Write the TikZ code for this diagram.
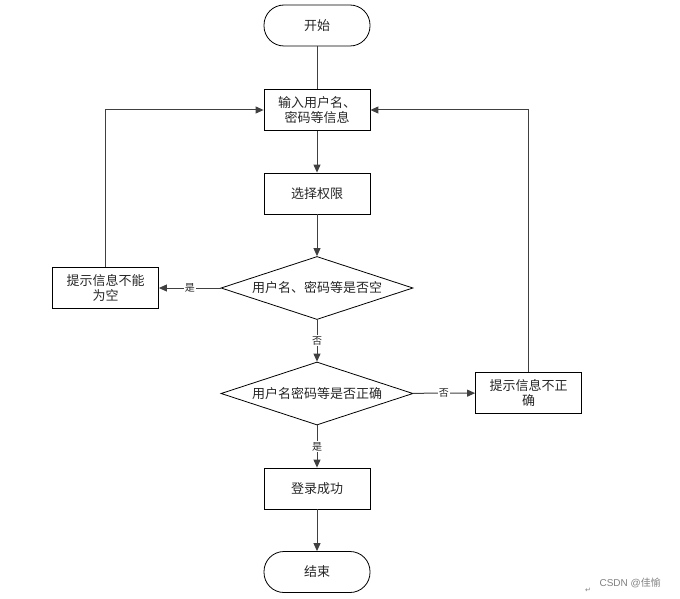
\documentclass[tikz,border=0pt]{standalone}
\usepackage{fontspec}
\setmainfont{Noto Sans CJK SC}
\setsansfont{Liberation Sans}
\newfontfamily\symfont{DejaVu Sans}
\usetikzlibrary{arrows.meta,shapes.geometric}
\begin{document}
\begin{tikzpicture}[x=1pt,y=-1pt,
  every node/.style={font=\fontsize{13}{15.5}\selectfont, text=black!85},
  procbox/.style={draw=black, line width=0.8pt, minimum width=106pt, minimum height=41pt, inner sep=2pt, align=center, text width=100pt},
  termbox/.style={draw=black, line width=0.8pt, rounded corners=20pt, minimum width=106pt, minimum height=41pt},
  decbox/.style={draw=black, line width=0.8pt, diamond, aspect=3.05, minimum width=192pt, minimum height=63pt, inner sep=0pt},
  conn/.style={draw=black!75, line width=1pt},
  arr/.style={conn, -{Triangle[length=8pt,width=7pt]}},
  lbl/.style={font=\fontsize{10}{12}\selectfont, fill=white, inner sep=1pt}]
\useasboundingbox (0,0) rectangle (680,599);
\node[termbox] (start) at (317,25.5) {开始};
\node[procbox] (input) at (317,110) {输入用户名、\\密码等信息};
\node[procbox] (perm) at (317,193.5) {选择权限};
\node[decbox] (d1) at (317,288) {用户名、密码等是否空};
\node[decbox] (d2) at (317,393.5) {用户名密码等是否正确};
\node[procbox] (empty) at (105.5,288) {提示信息不能\\为空};
\node[procbox] (wrong) at (528.5,393) {提示信息不正\\确};
\node[procbox] (ok) at (317,488.5) {登录成功};
\node[termbox] (end) at (317,572) {结束};
\coordinate (lt) at (105.5,110);
\coordinate (rt) at (528.5,110);
\draw[conn] (start) -- (input);
\draw[arr] (input) -- (perm);
\draw[arr] (perm) -- (d1);
\draw[arr] (d1) -- node[lbl]{否} (d2);
\draw[arr] (d1) -- node[lbl]{是} (empty);
\draw[arr] (d2) -- node[lbl]{否} (wrong);
\draw[arr] (d2) -- node[lbl]{是} (ok);
\draw[arr] (ok) -- (end);
\draw[arr] (empty.north) -- (lt) -- (input.west);
\draw[arr] (wrong.north) -- (rt) -- (input.east);
\node[font=\fontsize{10}{12}\selectfont, text=black!50, anchor=west] (wm) at (596,583) {{\sffamily CSDN @}佳愉};
\node[font=\symfont\fontsize{7}{8}\selectfont, text=black!50] (ret) at (588,590) {↵};
\end{tikzpicture}
\end{document}
